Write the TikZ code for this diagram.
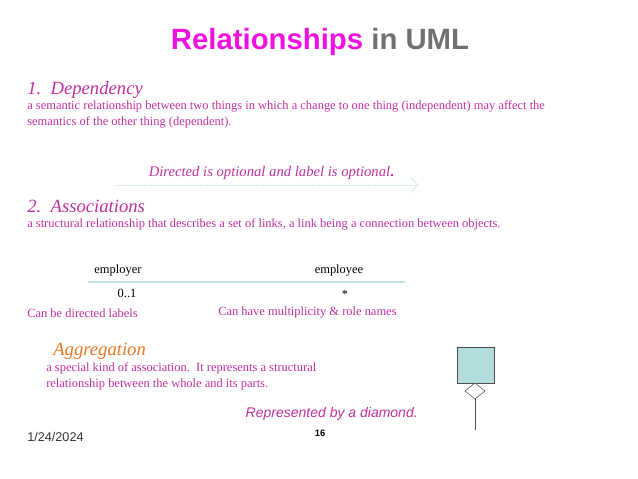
\documentclass[tikz,border=0pt]{standalone}
\usepackage{fontspec}
\setmainfont{Liberation Serif}
\setsansfont{Liberation Sans}
\usetikzlibrary{arrows.meta}
\definecolor{mag}{HTML}{C0309F}
\definecolor{tmag}{HTML}{F010E0}
\definecolor{tgray}{HTML}{707070}
\definecolor{orng}{HTML}{E87722}
\definecolor{cyanl}{HTML}{BFE3E3}
\definecolor{boxf}{HTML}{B3DCDD}
\tikzset{txt/.style={anchor=west,inner sep=0,text=mag,font=\fontsize{9.35}{11}\selectfont},
head/.style={anchor=west,inner sep=0,font=\fontsize{14}{15}\selectfont\itshape}}
\begin{document}
\begin{tikzpicture}[x=0.75pt,y=-0.75pt]
\useasboundingbox (0,0) rectangle (638,478);
\node (title) at (320,42) {\sffamily\bfseries\fontsize{22}{26}\selectfont\textcolor{tmag}{Relationships} \textcolor{tgray}{in UML}};
\node[head,text=mag] (h1) at (27,90) {1.\ \ Dependency};
\node[txt] (t1) at (27,106) {a semantic relationship between two things in which a change to one thing (independent) may affect the};
\node[txt] (t2) at (27,122) {semantics of the other thing (dependent).};
\node[txt,anchor=center,font=\fontsize{11}{12}\selectfont\itshape] (dir) at (272,173) {Directed is optional and label is optional{\fontsize{15}{15}\selectfont.}};
\coordinate (d1) at (116,185); \coordinate (d2) at (418,185);
\draw[cyanl,densely dotted,-{Straight Barb[length=5pt,width=11pt]}] (d1) -- (d2);
\node[head,text=mag] (h2) at (27,206) {2.\ \ Associations};
\node[txt] (t3) at (27,224) {a structural relationship that describes a set of links, a link being a connection between objects.};
\node[txt,anchor=center,text=black] (er) at (118,271) {employer};
\node[txt,anchor=center,text=black] (ee) at (339,271) {employee};
\coordinate (a1) at (88,282); \coordinate (a2) at (405,282);
\draw[cyanl,thick] (a1) -- (a2);
\node[txt,anchor=center,text=black] (m1) at (127,293) {0..1};
\node[txt,anchor=center,text=black] (m2) at (345,294) {*};
\node[txt] (c1) at (27,313) {Can be directed labels};
\node[txt] (c2) at (218,313) {Can have multiplicity \& role names};
\node[head,text=orng] (h3) at (53,351) {Aggregation};
\node[txt] (t4) at (46,368) {a special kind of association.\ \ It represents a structural};
\node[txt] (t5) at (46,384) {relationship between the whole and its parts.};
\node[anchor=east,inner sep=0,text=mag,font=\sffamily\itshape\fontsize{10.5}{12}\selectfont] (rep) at (418,414) {Represented by a diamond.};
\node[draw=black!70,fill=boxf,minimum width=27.75pt,minimum height=27pt,inner sep=0] (box) at (475.5,365) {};
\coordinate (dt) at (475,383); \coordinate (dr) at (485,391); \coordinate (db) at (475,399); \coordinate (dl) at (465,391);
\draw[black!70,fill=white] (dt) -- (dr) -- (db) -- (dl) -- cycle;
\coordinate (le) at (475,430);
\draw[black!70] (db) -- (le);
\node[anchor=west,inner sep=0,font=\sffamily\fontsize{9.5}{11}\selectfont,text=black!80] (date) at (27,437) {1/24/2024};
\node[inner sep=0,font=\sffamily\bfseries\fontsize{7}{8}\selectfont] (pg) at (320,433) {16};
\end{tikzpicture}
\end{document}
